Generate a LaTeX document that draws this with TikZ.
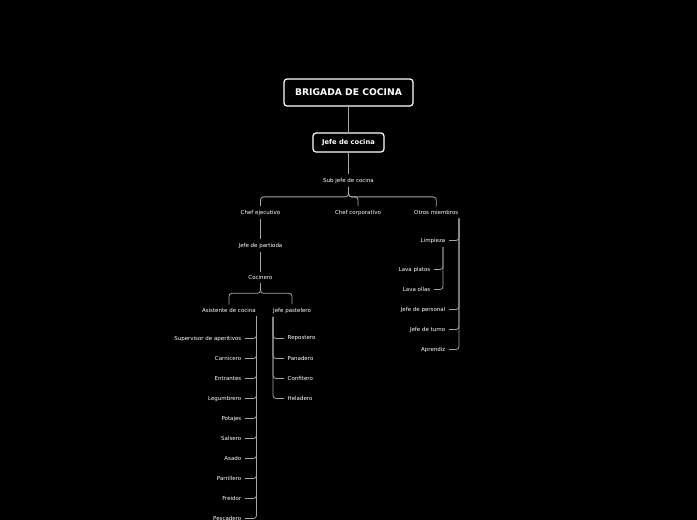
\documentclass[tikz,border=0pt]{standalone}
\usepackage{fontspec}
\setmainfont{DejaVu Sans}
\usetikzlibrary{calc,positioning}
\definecolor{LinkGray}{RGB}{165,165,165}

\begin{document}
\begin{tikzpicture}[x=1pt,y=-1pt,
       white, text=white, rounded corners=3pt,
       every node/.style={font=\fontsize{5.5}{6}\selectfont, inner sep=1.5pt},
       link/.style={draw=LinkGray, line width=.8pt, shorten <=2pt, shorten >=2pt},
       titlebox/.style 2 args={draw=white, line width=1.2pt, fill=black,
                               minimum width=#1, minimum height=#2}]

	%% Background and page size
	\fill[black,rounded corners=0pt] (0,0) rectangle (697,520);
	\useasboundingbox (0,0) rectangle (697,520);

	%% Top of the brigade
	\node [titlebox={129pt}{27pt}, font=\bfseries\fontsize{9.2}{10}\selectfont] (brigada) at (348.5,92.5) {BRIGADA DE COCINA};
	\node [titlebox={71pt}{19pt}, font=\bfseries\fontsize{6.7}{7}\selectfont] (jefe) at (348.5,142.5) {Jefe de cocina};
	\node (subjefe) at (348.5,180.5) {Sub jefe de cocina};
	\draw[link,shorten <=0pt,shorten >=0pt] (brigada) -- (jefe);
	\draw[link,shorten <=0pt] (jefe) -- (subjefe);

	%% Second level
	\node (ejecutivo) at (260.5,212.5) {Chef ejecutivo};
	\node (corporativo) at (358,212.5) {Chef corporativo};
	\node[anchor=east] (otros) at (460,212.5) {Otros miembros};
	\foreach \c in {ejecutivo,corporativo,otros}
		{\draw[link] (subjefe.south) -- ++(0,12) -| (\c.north);}

	\node (partida) at (260.5,245.5) {Jefe de partioda};
	\node (cocinero) at (260.5,277.5) {Cocinero};
	\draw[link] (ejecutivo) -- (partida);
	\draw[link] (partida) -- (cocinero);

	\node[anchor=east] (asistente) at (257.5,310.5) {Asistente de cocina};
	\node[anchor=west] (pastelero) at (271.5,310.5) {Jefe pastelero};
	\foreach \c in {asistente,pastelero}
		{\draw[link] (cocinero.south) -- ++(0,12) -| (\c.north);}

	%% Kitchen assistants
	\foreach [count=\i] \n in {Supervisor de aperitivos,Carnicero,Entrantes,Legumbrero,
	                           Potajes,Salsero,Asado,Parrillero,Freidor,Pescadero}
		{\node[anchor=east] (asis\i) at (243,318.5+20*\i) {\n};
		 \draw[link] ($(asistente.south east)+(-1,0)$) |- (asis\i.east);}

	%% Pastry chefs
	\foreach [count=\i] \n in {Repostero,Panadero,Confitero,Heladero}
		{\node[anchor=west] (past\i) at (286,318.5+20*\i) {\n};
		 \draw[link] ($(pastelero.south west)+(1.5,0)$) |- (past\i.west);}

	%% Other members
	\node[anchor=east] (limpieza) at (447,240.5) {Limpieza};
	\node[anchor=east] (personal) at (447,309.5) {Jefe de personal};
	\node[anchor=east] (turno) at (447,329.5) {Jefe de turno};
	\node[anchor=east] (aprendiz) at (447,349.5) {Aprendiz};
	\foreach \c in {limpieza,personal,turno,aprendiz}
		{\draw[link] ($(otros.south east)+(-1,0)$) |- (\c.east);}

	\node[anchor=east] (platos) at (432,269.5) {Lava platos};
	\node[anchor=east] (ollas) at (432,289.5) {Lava ollas};
	\foreach \c in {platos,ollas}
		{\draw[link] ($(limpieza.south east)+(-4,0)$) |- (\c.east);}
\end{tikzpicture}
\end{document}
